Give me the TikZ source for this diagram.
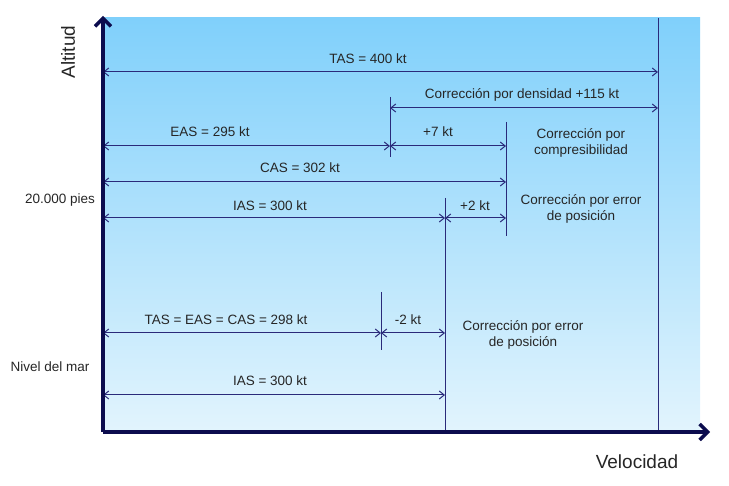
\documentclass[tikz,border=0pt]{standalone}
\usepackage{fontspec}
\setmainfont{Liberation Sans}
\usetikzlibrary{arrows.meta}
\definecolor{ln}{HTML}{2A2A7A}
\definecolor{ax}{HTML}{0C0C4E}
\definecolor{topc}{HTML}{80D0FB}
\definecolor{botc}{HTML}{E2F4FD}
\begin{document}
\begin{tikzpicture}[x=1pt,y=-1pt,
  dim/.style={ln,line width=1pt,{Straight Barb[length=5pt,width=8pt]}-{Straight Barb[length=5pt,width=8pt]}},
  tick/.style={ln,line width=1pt},
  lab/.style={font=\fontsize{13.5}{16}\selectfont,text=black!85,align=center,inner sep=1pt},
  axis/.style={ax,line width=4pt,-{Straight Barb[length=8pt,width=16pt,line width=3.5pt]}}]
\useasboundingbox (0,0) rectangle (729,486);
\shade[top color=topc,bottom color=botc] (103,18) rectangle (700,432);
% vertical ticks
\draw[tick] (658,18) -- (658,430);
\draw[tick] (390,97) -- (390,157);
\draw[tick] (506,122) -- (506,236);
\draw[tick] (445,198) -- (445,430);
\draw[tick] (381,292) -- (381,350);
% coordinates
\coordinate (l1) at (103,72); \coordinate (r1) at (658,72);
\coordinate (l2) at (390,108); \coordinate (r2) at (658,108);
\coordinate (l3) at (103,146); \coordinate (m3) at (390,146); \coordinate (r3) at (506,146);
\coordinate (l4) at (103,182); \coordinate (r4) at (506,182);
\coordinate (l5) at (103,218); \coordinate (m5) at (445,218); \coordinate (r5) at (506,218);
\coordinate (l6) at (103,333); \coordinate (m6) at (381,333); \coordinate (r6) at (445,333);
\coordinate (l7) at (103,395); \coordinate (r7) at (445,395);
\draw[dim] (l1) -- (r1);
\draw[dim] (l2) -- (r2);
\draw[dim] (l3) -- (m3); \draw[dim] (m3) -- (r3);
\draw[dim] (l4) -- (r4);
\draw[dim] (l5) -- (m5); \draw[dim] (m5) -- (r5);
\draw[dim] (l6) -- (m6); \draw[dim] (m6) -- (r6);
\draw[dim] (l7) -- (r7);
% labels
\node[lab] (t1) at (368,59) {TAS = 400 kt};
\node[lab] (t2) at (522,95) {Corrección por densidad +115 kt};
\node[lab] (t3) at (210,132) {EAS = 295 kt};
\node[lab] (t3b) at (438,132) {+7 kt};
\node[lab] (c1) at (581,143) {Corrección por\\compresibilidad};
\node[lab] (t4) at (300,168) {CAS = 302 kt};
\node[lab] (t5) at (270,206) {IAS = 300 kt};
\node[lab] (t5b) at (475,206) {+2 kt};
\node[lab] (c2) at (581,209) {Corrección por error\\de posición};
\node[lab] (h1) at (60,200) {20.000 pies};
\node[lab] (t6) at (226,320) {TAS = EAS = CAS = 298 kt};
\node[lab] (t6b) at (408,320) {-2 kt};
\node[lab] (c3) at (523,335) {Corrección por error\\de posición};
\node[lab] (h2) at (50,367) {Nivel del mar};
\node[lab] (t7) at (270,381) {IAS = 300 kt};
% axes
\coordinate (o) at (103,432);
\coordinate (ytop) at (103,16);
\coordinate (xend) at (710,432);
\draw[axis] (o) -- (ytop);
\draw[axis] (o) -- (xend);
\node[font=\fontsize{19}{22}\selectfont,rotate=90,text=black!85] (ya) at (68,52) {Altitud};
\node[font=\fontsize{19}{22}\selectfont,text=black!85] (xa) at (637,462) {Velocidad};
\end{tikzpicture}
\end{document}
